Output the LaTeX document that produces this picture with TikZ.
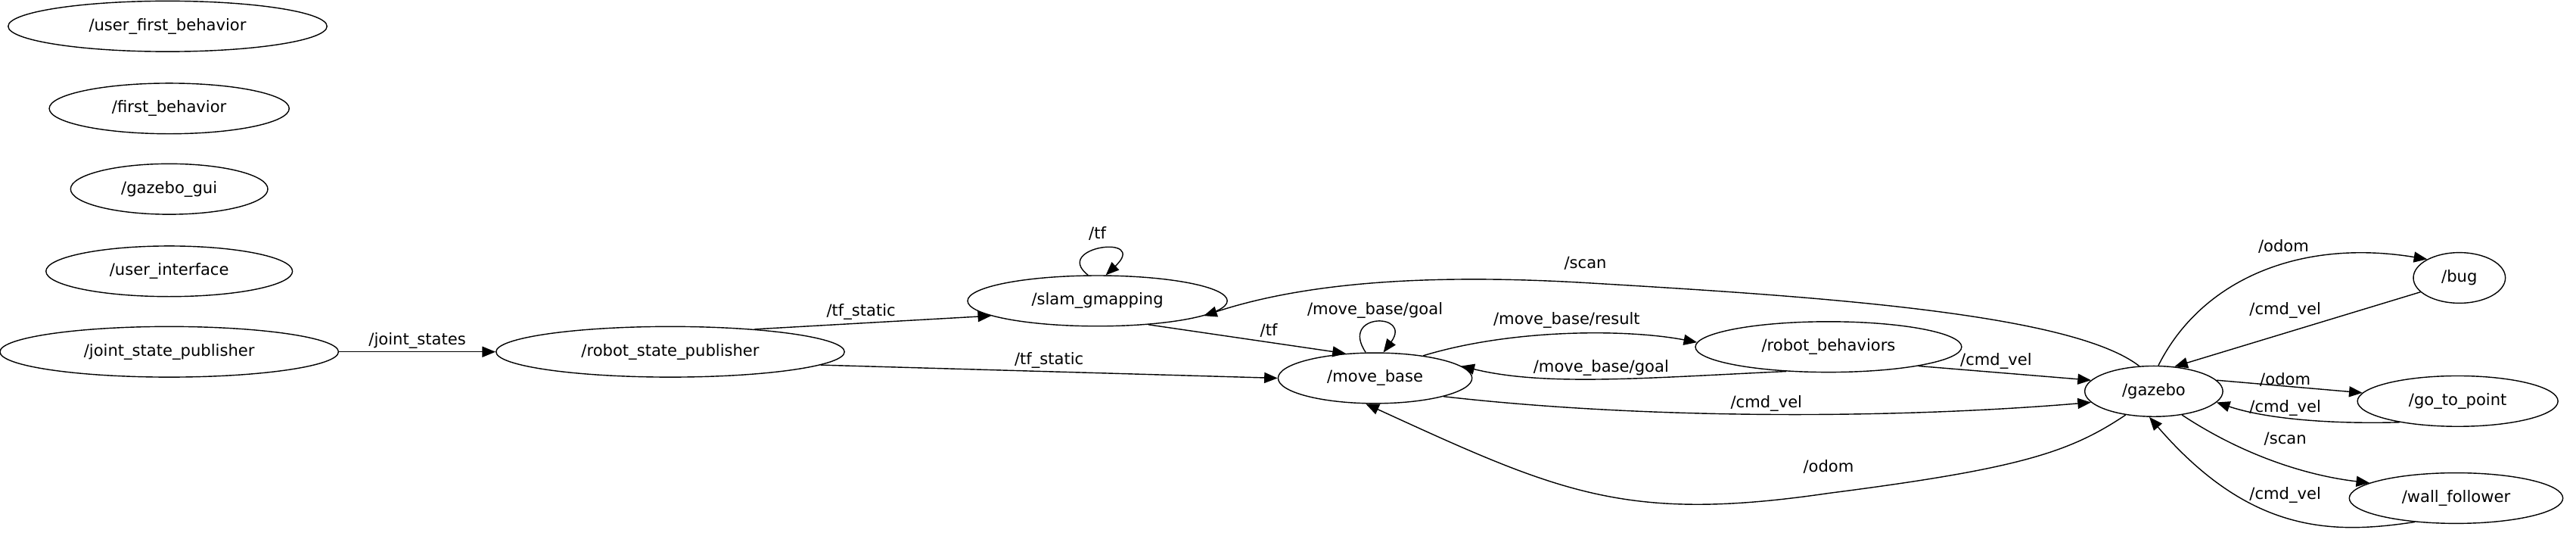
\documentclass[tikz,border=0pt]{standalone}
\usepackage{fontspec}
\setmainfont{DejaVu Sans}
\usetikzlibrary{arrows.meta,shapes.geometric,positioning}
\tikzset{
  proc/.style={ellipse, draw, inner sep=0pt, minimum height=19pt, minimum width=#1*0.618pt},
  lbl/.style={inner sep=1pt},
  link/.style={->, >={Triangle[length=5pt,width=4pt]}, thin}
}
\begin{document}
\begin{tikzpicture}[x=0.02172cm, y=-0.02172cm, font=\fontsize{6}{7}\selectfont]
  \useasboundingbox (0,0) rectangle (1568,324);

  % processes
  \node[proc=194] (ufb) at (102,16) {/user\_first\_behavior};
  \node[proc=146] (fb) at (103,66) {/first\_behavior};
  \node[proc=120] (gui) at (103,115) {/gazebo\_gui};
  \node[proc=150] (ui) at (103,165) {/user\_interface};
  \node[proc=206] (jsp) at (103,214) {/joint\_state\_publisher};
  \node[proc=212] (rsp) at (408,214) {/robot\_state\_publisher};
  \node[proc=158] (slam) at (668,183) {/slam\_gmapping};
  \node[proc=118] (mb) at (837,230) {/move\_base};
  \node[proc=162] (rb) at (1113,211) {/robot\_behaviors};
  \node[proc=84] (gz) at (1311,238) {/gazebo};
  \node[proc=56] (bug) at (1497,169) {/bug};
  \node[proc=122] (gtp) at (1496,244) {/go\_to\_point};
  \node[proc=130] (wf) at (1495,303) {/wall\_follower};

  % topics
  \draw[link] (jsp) -- (rsp) node[lbl, midway, above] {/joint\_states};
  \draw[link] (rsp.15) -- (slam.188) node[lbl, pos=0.45, above] {/tf\_static};
  \draw[link] (rsp.-5) -- (mb.180) node[lbl, midway, above] {/tf\_static};
  \draw[link] (slam.110) .. controls (640,150) and (700,142) .. (slam.72);
  \node[lbl] (tf1) at (668,142) {/tf};
  \draw[link] (slam.-25) -- (mb.140) node[lbl, pos=0.55, above right] {/tf};
  \draw[link] (mb.110) .. controls (815,190) and (860,190) .. (mb.72);
  \node[lbl] (goal1) at (837,189) {/move\_base/goal};
  \draw[link] (mb.25) .. controls (920,200) and (990,200) .. (rb.178)
    node[lbl, midway, above=1pt] {/move\_base/result};
  \draw[link] (rb.-150) .. controls (1000,230) and (940,235) .. (mb.8)
    node[lbl, midway, above] {/move\_base/goal};
  \draw[link] (rb.-12) -- (gz.170) node[lbl, pos=0.45, above] {/cmd\_vel};
  \draw[link] (mb.-15) .. controls (1000,255) and (1150,255) .. (gz.-170)
    node[lbl, midway, above] {/cmd\_vel};
  \draw[link] (gz.-140) .. controls (1260,275) and (1230,285) .. (1113,300)
    .. controls (990,318) and (950,300) .. (mb.-110);
  \node[lbl] (odom1) at (1113,284) {/odom};
  \draw[link] (gz.120) .. controls (1260,190) and (1100,180) .. (965,172)
    .. controls (880,167) and (800,170) .. (slam.-8);
  \node[lbl] (scan1) at (965,160) {/scan};
  \draw[link] (gz.80) .. controls (1340,170) and (1400,145) .. (bug.150);
  \node[lbl] (odom2) at (1390,150) {/odom};
  \draw[link] (bug.-160) -- (gz.50);
  \node[lbl] (cv1) at (1391,189) {/cmd\_vel};
  \draw[link] (gz.10) -- (gtp.175);
  \node[lbl] (odom3) at (1391,231) {/odom};
  \draw[link] (gtp.-160) .. controls (1420,258) and (1380,255) .. (gz.-10);
  \node[lbl] (cv2) at (1391,248) {/cmd\_vel};
  \draw[link] (gz.-40) .. controls (1370,280) and (1410,290) .. (wf.170);
  \node[lbl] (scan2) at (1391,267) {/scan};
  \draw[link] (wf.-150) .. controls (1420,325) and (1370,325) .. (gz.-100);
  \node[lbl] (cv3) at (1391,301) {/cmd\_vel};
\end{tikzpicture}
\end{document}
